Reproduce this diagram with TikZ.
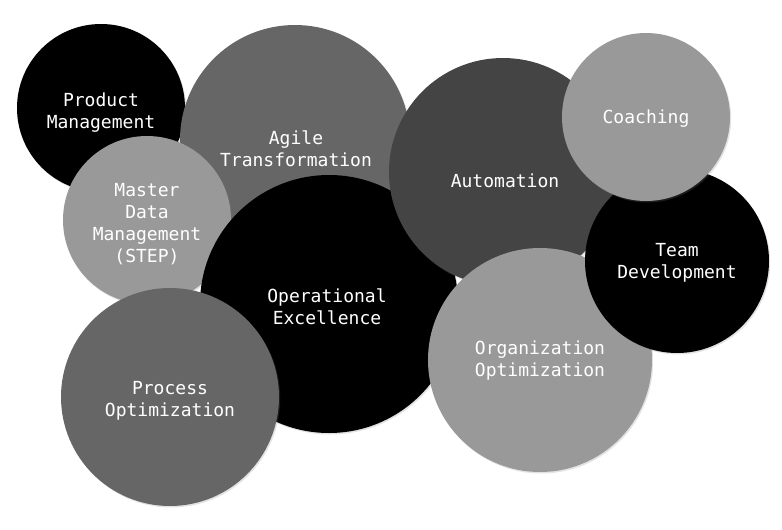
\documentclass[tikz,border=0pt]{standalone}
\usepackage{fontspec}
\newfontfamily\bubblefont{DejaVu Sans Mono}
\usetikzlibrary{shadows}

\tikzset{
  bubble/.style={circle, inner sep=0pt, draw=none,
    drop shadow={shadow xshift=1.2pt, shadow yshift=-1.5pt, opacity=0.22}},
  bubbletext/.style={inner sep=0pt, align=center, text=white,
    font=\bubblefont\fontsize{18}{22}\selectfont}
}

\definecolor{inkblack}{HTML}{000000}
\definecolor{inkdark}{HTML}{444444}
\definecolor{inkmid}{HTML}{666666}
\definecolor{inklight}{HTML}{999999}

\begin{document}
\begin{tikzpicture}[x=1pt, y=-1pt]

  %% ════ 画布 ════
  \path[use as bounding box] (0,0) rectangle (782,530);

  %% ════ 圆（先画的在下面）════
  \node[bubble, fill=inkblack, minimum size=168pt] (product)  at (101,108) {};
  \node[bubble, fill=inkmid,   minimum size=230pt] (agile)    at (295,140) {};
  \node[bubble, fill=inklight, minimum size=168pt] (master)   at (147,220) {};
  \node[bubble, fill=inkblack, minimum size=258pt] (opex)     at (329,304) {};
  \node[bubble, fill=inkmid,   minimum size=218pt] (process)  at (170,397) {};
  \node[bubble, fill=inkdark,  minimum size=228pt] (auto)     at (503,172) {};
  \node[bubble, fill=inklight, minimum size=224pt] (orgopt)   at (540,360) {};
  \node[bubble, fill=inkblack, minimum size=184pt] (team)     at (677,261) {};
  \node[bubble, fill=inklight, minimum size=168pt] (coaching) at (646,117) {};

  %% ════ 文字 ════
  % 文字中心与圆心不完全重合，按原图量（+2 补下沉）
  \node[bubbletext] (producttxt)  at (101,113) {Product\\Management};
  \node[bubbletext] (agiletxt)    at (296,149) {Agile\\Transformation};
  \node[bubbletext] (mastertxt)   at (147,224) {Master\\Data\\Management\\(STEP)};
  \node[bubbletext] (opextxt)     at (327,307) {Operational\\Excellence};
  \node[bubbletext] (processtxt)  at (170,401) {Process\\Optimization};
  \node[bubbletext] (autotxt)     at (505,181) {Automation};
  \node[bubbletext] (orgopttxt)   at (540,361) {Organization\\Optimization};
  \node[bubbletext] (teamtxt)     at (677,263) {Team\\Development};
  \node[bubbletext] (coachingtxt) at (646,119) {Coaching};

\end{tikzpicture}
\end{document}
